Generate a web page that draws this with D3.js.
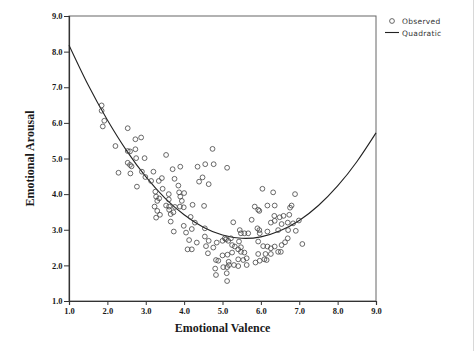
<!DOCTYPE html>
<html>
<head>
<meta charset="utf-8">
<script src="https://cdn.jsdelivr.net/npm/d3@7/dist/d3.min.js"></script>
<style>
  body { margin: 0; background: #fff; }
  svg { display: block; overflow: visible; }
</style>
</head>
<body>
<svg id="mainsvg" width="474" height="351"></svg>
<script>
// observed points: [valence, arousal]
const observed = [
  [1.85,6.49],[1.85,6.34],[1.92,6.06],[1.88,5.90],[2.53,5.85],[2.73,5.54],[2.88,5.59],[2.21,5.35],
  [2.53,5.21],[2.59,5.20],[2.73,5.26],[2.75,5.01],[2.97,5.01],[2.53,4.88],[2.59,4.82],[2.63,4.78],
  [2.29,4.60],[2.60,4.58],[2.90,4.63],[2.99,4.48],[3.20,4.63],[3.14,4.37],[3.34,4.37],[2.77,4.21],
  [3.25,4.07],[3.27,3.93],[3.30,3.81],[3.42,4.45],[4.74,5.27],[3.53,5.10],[3.70,4.70],[3.90,4.77],
  [4.35,4.77],[4.55,4.84],[4.77,4.84],[5.12,4.74],[3.75,4.43],[4.48,4.47],[4.39,4.35],[4.64,4.28],
  [3.85,4.24],[3.44,4.15],[3.60,4.00],[3.87,4.05],[4.00,4.03],[3.90,3.93],[3.35,3.88],[3.60,3.85],
  [3.94,3.81],[4.22,3.70],[4.52,3.67],[3.23,3.65],[3.53,3.68],[3.61,3.65],[3.76,3.64],[3.89,3.65],
  [3.99,3.63],[3.30,3.53],[3.61,3.56],[3.72,3.49],[3.37,3.42],[3.65,3.44],[4.17,3.36],[3.27,3.34],
  [3.65,3.23],[4.28,3.20],[3.99,3.11],[4.20,3.02],[3.73,2.95],[4.05,2.92],[4.54,3.04],[4.54,2.81],
  [4.13,2.71],[4.33,2.64],[4.64,2.69],[4.85,2.64],[5.00,2.69],[5.09,2.73],[4.57,2.54],[4.76,2.50],
  [4.09,2.45],[4.20,2.45],[4.62,2.34],[5.00,2.28],[5.13,2.30],[4.83,2.15],[4.89,2.13],[5.16,2.10],
  [5.02,1.95],[5.12,1.95],[4.81,1.91],[4.83,1.73],[5.11,1.78],[5.12,1.56],[5.96,3.53],[6.35,3.39],
  [6.49,3.35],[6.59,3.39],[6.74,3.42],[5.28,3.21],[5.76,3.28],[6.26,3.20],[6.36,3.25],[6.54,3.16],
  [6.70,3.20],[6.84,3.18],[6.99,3.26],[5.91,3.04],[5.96,2.99],[5.97,2.90],[5.45,2.99],[5.48,2.90],
  [5.57,2.90],[5.67,2.90],[6.17,2.95],[6.45,2.99],[6.71,2.99],[6.91,2.97],[5.06,2.76],[5.15,2.69],
  [5.22,2.76],[5.43,2.67],[5.93,2.67],[6.70,2.76],[6.63,2.65],[6.54,2.57],[5.25,2.57],[5.32,2.53],
  [5.41,2.45],[5.48,2.51],[6.06,2.54],[6.17,2.53],[6.26,2.48],[6.36,2.53],[7.08,2.60],[6.45,2.38],
  [6.52,2.38],[5.25,2.36],[5.48,2.38],[5.57,2.36],[5.93,2.32],[6.12,2.32],[6.26,2.32],[5.41,2.17],
  [5.54,2.15],[6.09,2.17],[6.15,2.15],[5.97,2.13],[5.86,2.08],[5.63,2.20],[5.17,2.01],[5.30,2.01],
  [5.41,1.98],[5.63,2.01],[6.04,4.15],[6.32,4.05],[6.89,4.00],[5.84,3.65],[5.93,3.56],[6.17,3.68],
  [6.36,3.68],[6.76,3.62],[6.80,3.68]
];
// quadratic fit line
const fitX = [1.0,1.5,2.0,2.5,3.0,3.5,4.0,4.5,5.0,5.5,6.0,6.5,7.0,7.5,8.0,8.5,9.0];
const fitY = [8.18,7.06,6.08,5.22,4.49,3.89,3.42,3.07,2.85,2.76,2.80,2.97,3.26,3.68,4.23,4.91,5.72];
const ticks = [1,2,3,4,5,6,7,8,9];
const xAxisLabel = 'Emotional Valence';
const yAxisLabel = 'Emotional Arousal';
const legendLabels = ['Observed', 'Quadratic'];

const svg = d3.select('#mainsvg');
const margin = { top: 16, right: 98, bottom: 50, left: 69 };
const width = +svg.attr('width');
const height = +svg.attr('height');
const innerWidth = width - margin.left - margin.right;
const innerHeight = height - margin.top - margin.bottom;

const xScale = d3.scaleLinear().domain([1, 9]).range([0, innerWidth]);
const yScale = d3.scaleLinear().domain([1, 9]).range([innerHeight, 0]);

// thin grey frame at the right edge of the picture
svg.append('line').attr('x1', 473.5).attr('x2', 473.5).attr('y1', 0).attr('y2', height)
  .attr('stroke', '#d8d8d8');

const g = svg.append('g').attr('transform', `translate(${margin.left}, ${margin.top})`);

// box
g.append('rect').attr('width', innerWidth).attr('height', innerHeight)
  .attr('fill', 'none').attr('stroke', '#666').attr('stroke-width', 1);

const serif = '"Liberation Serif", serif';
const xAxis = d3.axisBottom(xScale).tickValues(ticks).tickFormat(d3.format('.1f'))
  .tickSize(4).tickPadding(3);
const yAxis = d3.axisLeft(yScale).tickValues(ticks).tickFormat(d3.format('.1f'))
  .tickSize(5).tickPadding(1.5);

const xg = g.append('g').attr('transform', `translate(0, ${innerHeight})`).call(xAxis);
const yg = g.append('g').call(yAxis);
[xg, yg].forEach(ax => {
  ax.attr('font-family', serif).attr('font-size', 8.5).attr('font-weight', 'bold');
  ax.select('.domain').attr('stroke', '#333').attr('stroke-width', 1.2);
  ax.selectAll('.tick line').attr('stroke', '#333');
  ax.selectAll('.tick text').attr('fill', '#1a1a1a');
});

// axis titles
g.append('text')
  .attr('x', xScale(5)).attr('y', innerHeight + 31)
  .attr('text-anchor', 'middle')
  .attr('font-family', serif).attr('font-size', 12).attr('font-weight', 'bold')
  .attr('fill', '#1a1a1a')
  .text(xAxisLabel);
g.append('text')
  .attr('transform', `translate(-35, ${innerHeight / 2}) rotate(-90)`)
  .attr('text-anchor', 'middle')
  .attr('font-family', serif).attr('font-size', 12).attr('font-weight', 'bold')
  .attr('fill', '#1a1a1a')
  .text(yAxisLabel);

// fit curve
const line = d3.line()
  .x((d, i) => xScale(fitX[i]))
  .y(d => yScale(d))
  .curve(d3.curveNatural);
g.append('path').datum(fitY).attr('d', line)
  .attr('fill', 'none').attr('stroke', '#222').attr('stroke-width', 1.1);

// points
g.selectAll('.pt').data(observed).join('circle')
  .attr('class', 'pt')
  .attr('cx', d => xScale(d[0]))
  .attr('cy', d => yScale(d[1]))
  .attr('r', 2.4)
  .attr('fill', 'none')
  .attr('stroke', '#444')
  .attr('stroke-width', 0.8);

// legend
const lg = svg.append('g').attr('transform', `translate(${width - margin.right + 9}, 21)`);
lg.append('circle').attr('cx', 7).attr('cy', 0).attr('r', 2.4)
  .attr('fill', 'none').attr('stroke', '#444').attr('stroke-width', 0.8);
lg.append('line').attr('x1', 0).attr('x2', 14).attr('y1', 11.5).attr('y2', 11.5)
  .attr('stroke', '#222').attr('stroke-width', 1.1);
lg.selectAll('.lt').data(legendLabels).join('text')
  .attr('class', 'lt')
  .attr('x', 17)
  .attr('y', (d, i) => 3 + i * 11.5)
  .attr('font-family', '"DejaVu Sans", sans-serif')
  .attr('font-size', 7.5)
  .attr('letter-spacing', '0.3px')
  .attr('fill', '#333')
  .text(d => d);
</script>
</body>
</html>
